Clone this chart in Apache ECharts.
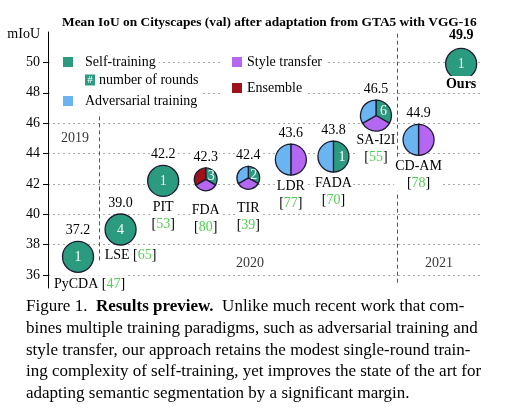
<!DOCTYPE html>
<html><head><meta charset="utf-8">
<script src="https://cdn.jsdelivr.net/npm/echarts@6/dist/echarts.min.js"></script>
<style>html,body{margin:0;padding:0;background:#fff}#c{width:521px;height:416px}</style>
</head><body><div id="c"></div>
<script>
// ---- data ----
const methods = ['PyCDA', 'LSE', 'PIT', 'FDA', 'TIR', 'LDR', 'FADA', 'SA-I2I', 'CD-AM', 'Ours'];
const refs = ['47', '65', '53', '80', '39', '77', '70', '55', '78', ''];
const miou = [37.2, 39.0, 42.2, 42.3, 42.4, 43.6, 43.8, 46.5, 44.9, 49.9];
const selfTrainingRounds = [1, 4, 1, 3, 2, 0, 1, 6, 0, 1];
const usesStyleTransfer = [0, 0, 0, 1, 1, 1, 0, 1, 1, 0];
const usesAdversarial = [0, 0, 0, 0, 1, 1, 1, 1, 1, 0];
const usesEnsemble = [0, 0, 0, 1, 0, 0, 0, 0, 0, 0];
const years = ['2019', '2020', '2021'];
const yTicks = [36, 38, 40, 42, 44, 46, 48, 50];
const captionLines = [
  'Figure 1.  {b|Results preview.}  Unlike much recent work that com-',
  'bines multiple training paradigms, such as adversarial training and',
  'style transfer, our approach retains the modest single-round train-',
  'ing complexity of self-training, yet improves the state of the art for',
  'adapting semantic segmentation by a significant margin.'
];

// ---- styles ----
const FONT = '"Liberation Serif", "Times New Roman", serif';
const C = { self: '#2b9b80', adv: '#6ab4f1', style: '#b467f0', ens: '#9e1219', out: '#1c1c30', ref: '#4fd24f' };
const smallPie = { 'FDA': true, 'TIR': true };
const nameLayout = {
  'PyCDA': { oneLine: true, dx: 11.5, dy: 27 },
  'LSE': { oneLine: true, dx: 10, dy: 26 },
  'FDA': { dy: 30.5 },
  'TIR': { dy: 30.5 },
  'SA-I2I': { dy: 25 },
  'Ours': { dy: 20.5, bold: true }
};

function renderItem(params, api) {
  const i = params.dataIndex;
  const c = api.coord([api.value(0), api.value(1)]);
  const name = methods[i];
  const r = smallPie[name] ? 11.4 : 15.5;
  const slices = [];
  if (selfTrainingRounds[i] > 0) slices.push({ color: C.self, self: true });
  if (usesStyleTransfer[i]) slices.push({ color: C.style });
  if (usesAdversarial[i]) slices.push({ color: C.adv });
  if (usesEnsemble[i]) slices.push({ color: C.ens });
  const n = slices.length;
  const step = Math.PI * 2 / n;
  const children = [];
  const texts = [];
  slices.forEach((s, k) => {
    const a0 = -Math.PI / 2 + k * step;
    if (n === 1) {
      children.push({ type: 'circle', shape: { cx: c[0], cy: c[1], r: r },
        style: { fill: s.color, stroke: C.out, lineWidth: 1.3 } });
    } else {
      children.push({ type: 'sector', shape: { cx: c[0], cy: c[1], r: r, r0: 0, startAngle: a0, endAngle: a0 + step, clockwise: true },
        style: { fill: s.color, stroke: C.out, lineWidth: 1.3 } });
    }
    if (s.self) {
      const mid = a0 + step / 2;
      const d = n === 1 ? 0 : r * 0.55;
      texts.push({ type: 'text', x: c[0] + d * Math.cos(mid), y: c[1] + d * Math.sin(mid) + 0.5,
        style: { text: String(selfTrainingRounds[i]), fill: '#fff', font: '14px ' + FONT, align: 'center', verticalAlign: 'middle' } });
    }
  });
  const lay = nameLayout[name] || {};
  const bold = lay.bold ? 'bold ' : '';
  // value label
  texts.push({ type: 'text', x: c[0], y: c[1] - r - (name === 'Ours' ? 13 : 11),
    style: { text: miou[i].toFixed(1), fill: '#000', font: bold + '14px ' + FONT, align: 'center', verticalAlign: 'middle',
      backgroundColor: '#fff', padding: [0, 1] } });
  // name + reference label
  const dy = lay.dy !== undefined ? lay.dy : 26.5;
  const dx = lay.dx || 0;
  let txt;
  if (!refs[i]) txt = name;
  else if (lay.oneLine) txt = name + ' [{g|' + refs[i] + '}]';
  else txt = name + '\n[{g|' + refs[i] + '}]';
  texts.push({ type: 'text', x: c[0] + dx, y: c[1] + dy - 8.5,
    style: { text: txt, fill: '#000', font: bold + '14px ' + FONT, align: 'center', verticalAlign: 'top', lineHeight: 17,
      backgroundColor: '#fff', padding: [0, 1],
      rich: { g: { fill: C.ref, font: '14px ' + FONT, lineHeight: 17 } } } });
  return { type: 'group', children: children.concat(texts) };
}

const legendItems = [
  { label: 'Self-training', color: C.self, x: 63, y: 62, tx: 85 },
  { label: 'Adversarial training', color: C.adv, x: 63, y: 101, tx: 85 },
  { label: 'Style transfer', color: C.style, x: 232, y: 62, tx: 247 },
  { label: 'Ensemble', color: C.ens, x: 232, y: 88, tx: 247 }
];
const graphics = [];
legendItems.forEach(it => {
  graphics.push({ type: 'rect', shape: { x: it.x - 12, y: it.y - 8, width: it.tx - it.x + 12, height: 16 }, style: { fill: '#fff' }, z: 5 });
  graphics.push({ type: 'rect', shape: { x: it.x, y: it.y - 5, width: 10, height: 10 }, style: { fill: it.color }, z: 6 });
  graphics.push({ type: 'text', x: it.tx, y: it.y, style: { text: it.label, font: '14px ' + FONT, fill: '#000', verticalAlign: 'middle',
    backgroundColor: '#fff', padding: [1, 3, 1, 0] }, z: 6 });
});
graphics.push({ type: 'rect', shape: { x: 85, y: 74.5, width: 10, height: 11 }, style: { fill: C.self }, z: 6 });
graphics.push({ type: 'text', x: 90, y: 80.5, style: { text: '#', font: '11px ' + FONT, fill: '#fff', align: 'center', verticalAlign: 'middle' }, z: 7 });
graphics.push({ type: 'text', x: 99, y: 80, style: { text: 'number of rounds', font: '14px ' + FONT, fill: '#000', verticalAlign: 'middle' }, z: 6 });
const capY = [307, 329, 350.5, 372, 393.5];
captionLines.forEach((t, k) => {
  graphics.push({ type: 'text', x: 26, y: capY[k], style: { text: t, font: '17px ' + FONT, fill: '#000', verticalAlign: 'middle',
    rich: { b: { font: 'bold 17px ' + FONT, fill: '#000' } } }, z: 6 });
});

const chart = echarts.init(document.getElementById('c'));
chart.setOption({
  animation: false,
  backgroundColor: '#fff',
  title: { text: 'Mean IoU on Cityscapes (val) after adaptation from GTA5 with VGG-16', left: 57, top: 11,
    textStyle: { fontFamily: FONT, fontWeight: 'bold', fontSize: 13.4, color: '#000' } },
  grid: { left: 48, right: 39, top: 32, bottom: 128, containLabel: false, outerBoundsMode: 'none' },
  xAxis: { type: 'value', min: -0.705, max: 9.49, show: false },
  yAxis: {
    type: 'value', min: 35.15, max: 52,
    name: 'mIoU', nameLocation: 'end', nameGap: -2,
    nameTextStyle: { fontFamily: FONT, fontSize: 14, color: '#000', align: 'right', verticalAlign: 'middle', padding: [0, 8, 0, 0] },
    axisLine: { show: true, onZero: false, lineStyle: { color: '#000', width: 1 } },
    axisTick: { show: true, length: 5, customValues: yTicks, lineStyle: { color: '#000' } },
    axisLabel: { customValues: yTicks, margin: 8, fontFamily: FONT, fontSize: 14, color: '#000' },
    splitLine: { show: true, lineStyle: { color: '#aaa', type: [2, 3], width: 1 } }
  },
  graphic: graphics,
  series: [
    {
      type: 'scatter', name: 'years', symbolSize: 1, itemStyle: { color: 'rgba(0,0,0,0)' }, silent: true,
      data: years.map((y, k) => [[-0.07, 4.04, 8.48][k], [45.0, 36.78, 36.78][k], y]),
      label: { show: true, position: 'inside', formatter: p => p.data[2], fontFamily: FONT, fontSize: 14, color: '#000' },
      markLine: {
        silent: true, symbol: ['none', 'none'], label: { show: false },
        lineStyle: { color: '#555', type: [4, 3], width: 1 },
        emphasis: { disabled: true },
        data: [
          [{ coord: [0.5, 36.97] }, { coord: [0.5, 46.5] }],
          [{ coord: [7.5, 35.5] }, { coord: [7.5, 52] }]
        ]
      }
    },
    {
      type: 'custom', name: 'methods', renderItem: renderItem, z: 10,
      data: methods.map((m, i) => [i, miou[i]])
    }
  ]
});
</script></body></html>
